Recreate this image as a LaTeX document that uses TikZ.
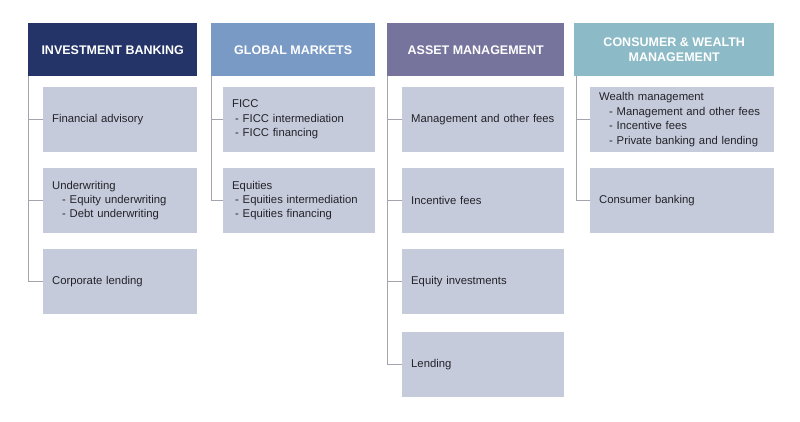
\documentclass[tikz,border=0pt]{standalone}
\usepackage{fontspec}
\setmainfont{Liberation Sans}
\usepackage{tikz}

\definecolor{ibblue}{HTML}{243468}
\definecolor{gmblue}{HTML}{7A9AC6}
\definecolor{ampurple}{HTML}{76749D}
\definecolor{cwteal}{HTML}{8CBAC6}
\definecolor{itemfill}{HTML}{C6CBDC}
\definecolor{itemtext}{HTML}{222228}
\definecolor{linegray}{HTML}{A4A4AC}

\begin{document}
\begin{tikzpicture}[x=1pt, y=-1pt,
  head/.style={rectangle, anchor=north west, minimum height=53pt, inner sep=0pt, align=center, text=white, font=\fontsize{12.5}{14.5}\selectfont\bfseries},
  item/.style={rectangle, anchor=west, fill=itemfill, minimum height=65pt, inner xsep=9pt, inner ysep=0pt, align=left, text=itemtext, font=\fontsize{11.3}{14.4}\selectfont},
  link/.style={draw=linegray, line width=1pt}]
  \useasboundingbox (0,0) rectangle (800,422);
  % headers
  \node [head, fill=ibblue, minimum width=169pt] (0) at (28,23) {INVESTMENT BANKING};
  \node [head, fill=gmblue, minimum width=164pt] (1) at (211,23) {GLOBAL MARKETS};
  \node [head, fill=ampurple, minimum width=177pt] (2) at (387,23) {ASSET MANAGEMENT};
  \node [head, fill=cwteal, minimum width=200pt] (3) at (574,23) {CONSUMER \& WEALTH\\MANAGEMENT};
  % investment banking
  \node [item, text width=136pt] (4) at (43,119.5) {Financial advisory};
  \node [item, text width=136pt] (5) at (43,200.5) {Underwriting\\\hspace*{10pt}- Equity underwriting\\\hspace*{10pt}- Debt underwriting};
  \node [item, text width=136pt] (6) at (43,281.5) {Corporate lending};
  % global markets
  \node [item, text width=134pt] (7) at (223,119.5) {FICC\\\hspace*{3pt}- FICC intermediation\\\hspace*{3pt}- FICC financing};
  \node [item, text width=134pt] (8) at (223,200.5) {Equities\\\hspace*{3pt}- Equities intermediation\\\hspace*{3pt}- Equities financing};
  % asset management
  \node [item, text width=144pt] (9) at (402,119.5) {Management and other fees};
  \node [item, text width=144pt] (10) at (402,200.5) {Incentive fees};
  \node [item, text width=144pt] (11) at (402,281.5) {Equity investments};
  \node [item, text width=144pt] (12) at (402,364.5) {Lending};
  % consumer and wealth management
  \node [item, text width=166pt] (13) at (590,119.5) {Wealth management\\\hspace*{10pt}- Management and other fees\\\hspace*{10pt}- Incentive fees\\\hspace*{10pt}- Private banking and lending};
  \node [item, text width=166pt] (14) at (590,200.5) {Consumer banking};
  \draw [link] (0.south west) |- (4.west);
  \draw [link] (0.south west) |- (5.west);
  \draw [link] (0.south west) |- (6.west);
  \draw [link] (1.south west) |- (7.west);
  \draw [link] (1.south west) |- (8.west);
  \draw [link] (2.south west) |- (9.west);
  \draw [link] (2.south west) |- (10.west);
  \draw [link] (2.south west) |- (11.west);
  \draw [link] (2.south west) |- (12.west);
  \draw [link] ([xshift=2pt]3.south west) |- (13.west);
  \draw [link] ([xshift=2pt]3.south west) |- (14.west);
\end{tikzpicture}
\end{document}
